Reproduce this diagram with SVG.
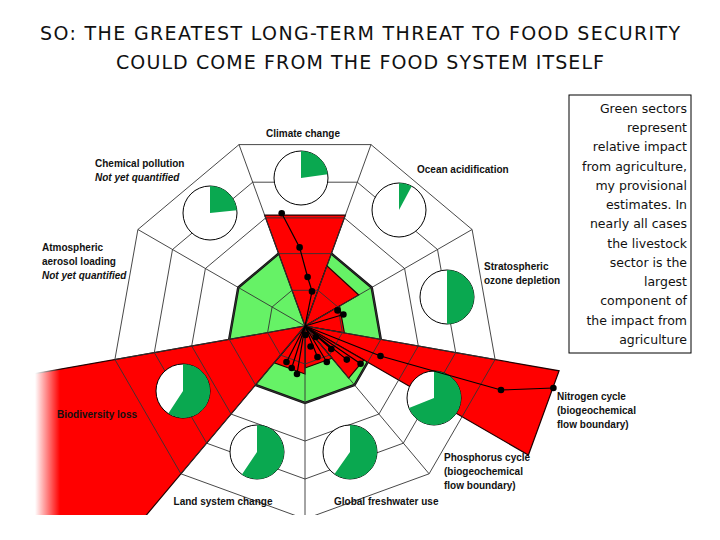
<svg xmlns="http://www.w3.org/2000/svg" width="720" height="540" viewBox="0 0 720 540">
<style>
.t{font-family:"DejaVu Sans",sans-serif;font-size:19px;fill:#111;text-anchor:middle}
.n{font-family:"DejaVu Sans",sans-serif;font-size:12.5px;fill:#111;text-anchor:end}
.l{font-family:"Liberation Sans",Arial,sans-serif;font-size:10px;font-weight:bold;fill:#111}
.i{font-style:italic}
.red{fill:#f00;stroke:#200;stroke-width:1.2}
.grid{fill:none;stroke:#333;stroke-width:0.9}
.pie{fill:#fff;stroke:#000;stroke-width:1}
.sl{fill:#0aa850;stroke:none}
.dl{fill:none;stroke:#000;stroke-width:1.2}
.dot{fill:#000}
</style>
<defs>
<clipPath id="cp"><rect x="35" y="90" width="530" height="425"/></clipPath>
<linearGradient id="fade" x1="0" x2="1" y1="0" y2="0"><stop offset="0" stop-color="#fff"/><stop offset="1" stop-color="#fff" stop-opacity="0"/></linearGradient>
</defs>
<rect width="720" height="540" fill="#fff"/>
<text class="t" x="360" y="40" textLength="640">SO: THE GREATEST LONG-TERM THREAT TO FOOD SECURITY</text>
<text class="t" x="360" y="69" textLength="488">COULD COME FROM THE FOOD SYSTEM ITSELF</text>

<g id="chart" clip-path="url(#cp)">
<polygon points="278.7,253.6 331.3,253.6 371.7,287.5 380.8,339.4 354.5,385 305,403 255.5,385 229.2,339.4 238.3,287.5" fill="#66f266" stroke="#111" stroke-width="2.5"/>
<g id="red">
<polygon class="red" points="305,326 264.6,215.1 345.4,215.1"/>
<polygon class="red" points="305,326 326.9,265.9 358.7,295"/>
<polygon class="red" points="305,326 339.6,306 344.4,332.9"/>
<polygon class="red" points="305,326 559.1,370.8 528.4,455"/>
<polygon class="red" points="305,326 363.9,360 348.7,378.1"/>
<polygon class="red" points="305,326 332,358.2 305,368"/>
<polygon class="red" points="305,326 305,374 274.1,362.8"/>
<polygon class="red" points="305,326 -80.7,785.6 -285.9,430.2"/>
</g>
<g id="grid" class="grid">
<polygon points="239,144.6 371,144.6 472.1,229.5 495.1,359.5 429.1,473.8 305,519 180.9,473.8 114.9,359.5 137.9,229.5"/>
<polygon points="252.7,182.2 357.3,182.2 437.5,249.5 455.7,352.6 403.3,443.2 305,479 206.7,443.2 154.3,352.6 172.5,249.5"/>
<polygon points="265.7,217.9 344.3,217.9 404.6,268.5 418.3,346 378.9,414.1 305,441 231.1,414.1 191.7,346 205.4,268.5"/>
<polygon points="278.7,253.6 331.3,253.6 371.7,287.5 380.8,339.4 354.5,385 305,403 255.5,385 229.2,339.4 238.3,287.5"/>
<polygon points="292,290.3 318,290.3 337.9,307 342.4,332.6 329.4,355.1 305,364 280.6,355.1 267.6,332.6 272.1,307"/>
<path d="M305,326L239,144.6M305,326L371,144.6M305,326L472.1,229.5M305,326L495.1,359.5M305,326L429.1,473.8M305,326L305,519M305,326L180.9,473.8M305,326L114.9,359.5M305,326L137.9,229.5"/>
</g>
<rect x="35" y="300" width="25" height="215" fill="url(#fade)"/>
</g>

<g id="pies">
<g id="pie-climate"><circle class="pie" cx="301" cy="178" r="27"/><path class="sl" d="M301,178L301,151A27,27 0 0 1 327.7,174.2Z"/></g>
<g id="pie-ocean"><circle class="pie" cx="399" cy="210" r="27"/><path class="sl" d="M399,210L399,183A27,27 0 0 1 411.7,186.2Z"/></g>
<g id="pie-chem"><circle class="pie" cx="210" cy="213" r="27"/><path class="sl" d="M210,213L210,186A27,27 0 0 1 236.9,210.2Z"/></g>
<g id="pie-ozone"><circle class="pie" cx="447" cy="297" r="27"/><path class="sl" d="M447,297L447,270A27,27 0 0 1 447,324Z"/></g>
<g id="pie-np"><circle class="pie" cx="434" cy="398" r="27"/><path class="sl" d="M434,398L434,371A27,27 0 1 1 409,408.1Z"/></g>
<g id="pie-water"><circle class="pie" cx="350" cy="452" r="27"/><path class="sl" d="M350,452L350,425A27,27 0 1 1 334.5,474.1Z"/></g>
<g id="pie-land"><circle class="pie" cx="257" cy="452" r="27"/><path class="sl" d="M257,452L257,425A27,27 0 1 1 241.9,474.4Z"/></g>
<g id="pie-bio"><circle class="pie" cx="183" cy="391" r="27"/><path class="sl" d="M183,391L183,364A27,27 0 1 1 168.3,413.6Z"/></g>
</g>

<g id="connectors">
<polyline class="dl" points="305,326 312,291.4 307.6,277 299.6,247.4 281.7,213.3"/>
<polyline class="dl" points="305,326 380.5,356 501,390 553.4,388"/>
<path class="dl" d="M305,326L343.4,314.5M305,326L360.6,363.8M305,326L346.8,359.6M305,326L331.3,349M305,326L326.8,362M305,326L317.5,357M305,326L297,374M305,326L291.7,368M305,326L286.5,362"/>
<g class="dot">
<circle cx="281.7" cy="213.3" r="3.3"/><circle cx="299.6" cy="247.4" r="3.3"/><circle cx="307.6" cy="277" r="3.3"/><circle cx="312" cy="291.4" r="3.3"/>
<circle cx="337.5" cy="310.4" r="3.3"/><circle cx="343.4" cy="314.5" r="3.3"/>
<circle cx="553.4" cy="388" r="3.3"/><circle cx="501" cy="390" r="3.3"/><circle cx="380.5" cy="356" r="3.3"/>
<circle cx="360.6" cy="363.8" r="3.3"/><circle cx="346.8" cy="359.6" r="3.3"/><circle cx="331.3" cy="349" r="3.3"/><circle cx="326.8" cy="362" r="3.3"/><circle cx="317.5" cy="357" r="3.3"/><circle cx="310.6" cy="346.5" r="3.3"/><circle cx="315.8" cy="337" r="3.3"/><circle cx="305.5" cy="335" r="3.3"/>
<circle cx="286.5" cy="362" r="3.3"/><circle cx="291.7" cy="368" r="3.3"/><circle cx="297" cy="374" r="3.3"/>
</g>
</g>

<g id="labels">
<text class="l" x="303" y="137" text-anchor="middle">Climate change</text>
<text class="l" x="95" y="167">Chemical pollution</text>
<text class="l i" x="95" y="181">Not yet quantified</text>
<text class="l" x="417" y="173">Ocean acidification</text>
<text class="l" x="42" y="251">Atmospheric</text>
<text class="l" x="42" y="265">aerosol loading</text>
<text class="l i" x="42" y="279">Not yet quantified</text>
<text class="l" x="484" y="270">Stratospheric</text>
<text class="l" x="484" y="284">ozone depletion</text>
<text class="l" x="557" y="400">Nitrogen cycle</text>
<text class="l" x="557" y="414">(biogeochemical</text>
<text class="l" x="557" y="428">flow boundary)</text>
<text class="l" x="444" y="461">Phosphorus cycle</text>
<text class="l" x="444" y="475">(biogeochemical</text>
<text class="l" x="444" y="489">flow boundary)</text>
<text class="l" x="223" y="505" text-anchor="middle">Land system change</text>
<text class="l" x="334" y="505">Global freshwater use</text>
<text class="l" x="57" y="418" fill="#500">Biodiversity loss</text>
</g>

<g id="note">
<rect x="569" y="95" width="122" height="258" fill="#fff" stroke="#000" stroke-width="1"/>
<text class="n" x="687" y="113">Green sectors</text>
<text class="n" x="687" y="132">represent</text>
<text class="n" x="687" y="151">relative impact</text>
<text class="n" x="687" y="171">from agriculture,</text>
<text class="n" x="687" y="190">my provisional</text>
<text class="n" x="687" y="209">estimates. In</text>
<text class="n" x="687" y="228">nearly all cases</text>
<text class="n" x="687" y="248">the livestock</text>
<text class="n" x="687" y="267">sector is the</text>
<text class="n" x="687" y="286">largest</text>
<text class="n" x="687" y="305">component of</text>
<text class="n" x="687" y="325">the impact from</text>
<text class="n" x="687" y="344">agriculture</text>
</g>
</svg>
